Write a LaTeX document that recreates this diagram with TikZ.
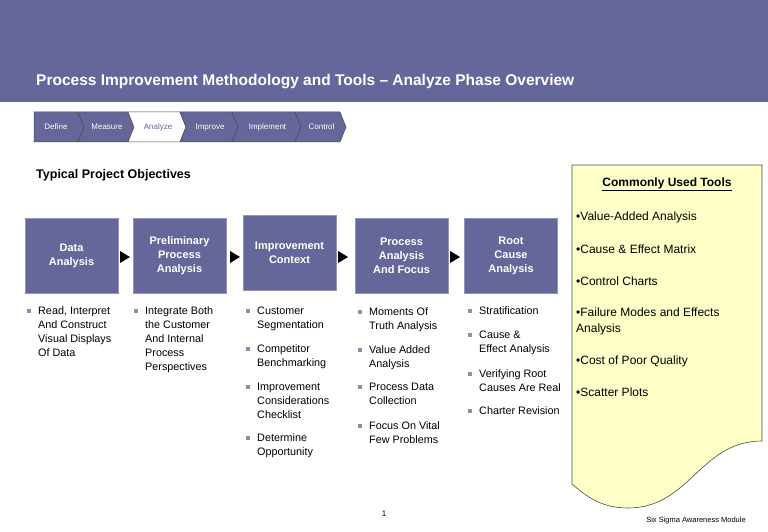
\documentclass[tikz,border=0pt]{standalone}
\usepackage{fontspec}
\setmainfont{Liberation Sans}
\definecolor{pur}{HTML}{65669A}
\definecolor{yel}{HTML}{FFFFC8}
\definecolor{bul}{HTML}{8E8EB0}
\begin{document}
\begin{tikzpicture}[x=1pt,y=-1pt,
  box/.style={fill=pur,draw=pur!70,minimum width=93pt,minimum height=75pt,inner sep=0pt,text=white,font=\bfseries\fontsize{11}{14}\selectfont,align=center},
  txt/.style={anchor=north west,inner sep=0pt,font=\fontsize{10.8}{14}\selectfont,align=left},
  bl/.style={fill=bul,minimum size=4pt,inner sep=0pt},
  tool/.style={anchor=west,inner sep=0pt,font=\fontsize{12}{16}\selectfont,align=left},
  chtxt/.style={font=\fontsize{8}{9}\selectfont,inner sep=0pt,text height=6pt,text depth=1.8pt}]
\useasboundingbox (0,0) rectangle (768,532);
\fill[white] (0,0) rectangle (768,532);
\fill[pur] (0,0) rectangle (768,102);
\node[anchor=west,text=white,font=\bfseries\fontsize{15.5}{18}\selectfont,inner sep=0pt] (title) at (36,82) {Process Improvement Methodology and Tools -- Analyze Phase Overview};
% chevrons
\draw[draw=black!70,fill=pur,line width=0.5pt] (34,112) -- (78,112) -- (84,127) -- (78,142) -- (34,142) -- cycle;
\node[chtxt,text=white] (c1) at (56,127) {Define};
\foreach \a/\b/\t/\c/\f in {78/128/Measure/pur/white,128/180/Analyze/white/pur,180/232/Improve/pur/white,232/295/Implement/pur/white,295/340/Control/pur/white}{
  \draw[fill=\c,draw=black!70,line width=0.5pt] (\a,112) -- (\b,112) -- (\b+6,127) -- (\b,142) -- (\a,142) -- (\a+6,127) -- cycle;
  \node[chtxt,text=\f] at ({(\a+\b)/2+4},127) {\t};
}
\node[anchor=west,font=\bfseries\fontsize{12.5}{15}\selectfont,inner sep=0pt] (obj) at (36,175) {Typical Project Objectives};
% boxes
\node[box] (b1) at (71.5,255.5) {Data\\Analysis};
\node[box] (b2) at (179.5,255.5) {Preliminary\\Process\\Analysis};
\node[box] (b3) at (289.5,253) {Improvement\\Context};
\node[box] (b4) at (401.5,256) {Process\\Analysis\\And Focus};
\node[box] (b5) at (511,256) {Root\\Cause\\Analysis};
\foreach \x in {120,230,338,450}{\fill (\x,251) -- (\x+10,257) -- (\x,263) -- cycle;}
% bullets
\newcommand\itm[3]{\node[bl] at (#1-9,#2) {}; \node[txt] at (#1,#2-4.5) {#3};}
\itm{38}{311}{Read, Interpret\\And Construct\\Visual Displays\\Of Data}
\itm{145}{311}{Integrate Both\\the Customer\\And Internal\\Process\\Perspectives}
\itm{257}{311}{Customer\\Segmentation}
\itm{257}{349}{Competitor\\Benchmarking}
\itm{257}{387}{Improvement\\Considerations\\Checklist}
\itm{257}{438}{Determine\\Opportunity}
\itm{369}{312}{Moments Of\\Truth Analysis}
\itm{369}{350}{Value Added\\Analysis}
\itm{369}{387}{Process Data\\Collection}
\itm{369}{426}{Focus On Vital\\Few Problems}
\itm{479}{311}{Stratification}
\itm{479}{335}{Cause \&\\Effect Analysis}
\itm{479}{374}{Verifying Root\\Causes Are Real}
\itm{479}{411}{Charter Revision}
% tools panel
\draw[fill=yel,draw=black!70,line width=0.6pt] (572,165) -- (762,165) -- (762,441)
  .. controls (700,441) and (690,508) .. (628,508) .. controls (600,508) and (585,495) .. (572,484) -- cycle;
\node[font=\bfseries\fontsize{12}{14}\selectfont,inner sep=0pt] (th) at (667,184) {\underline{Commonly Used Tools}};
\node[tool] at (576,217) {•Value-Added Analysis};
\node[tool] at (576,249) {•Cause \& Effect Matrix};
\node[tool] at (576,281) {•Control Charts};
\node[tool] at (576,312) {•Failure Modes and Effects};
\node[tool] at (576,329) {Analysis};
\node[tool] at (576,361) {•Cost of Poor Quality};
\node[tool] at (576,392) {•Scatter Plots};
\node[font=\fontsize{8}{9}\selectfont,inner sep=0pt] at (384,514) {1};
\node[font=\fontsize{7.5}{9}\selectfont,inner sep=0pt] at (696,521) {Six Sigma Awareness Module};
\end{tikzpicture}
\end{document}
